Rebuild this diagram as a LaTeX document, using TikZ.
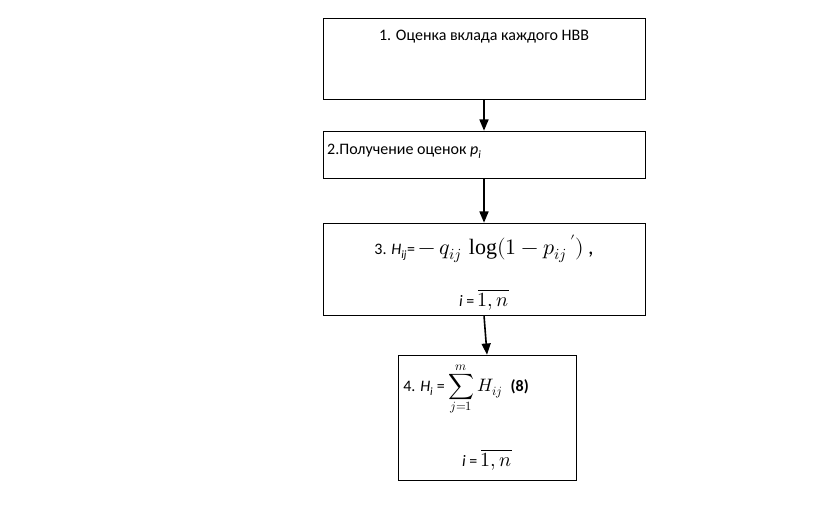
\documentclass[tikz,border=0pt]{standalone}
\usepackage{fontspec}
\usepackage{unicode-math}
\setmainfont{Carlito}
\setmathfont{Latin Modern Math}
\setmathrm{Liberation Serif}
\usetikzlibrary{positioning, arrows}
\tikzstyle{blk}=[draw, shape=rectangle, inner sep=0pt, line width=0.8pt]
\tikzstyle{txt}=[inner sep=0pt, font=\fontsize{16}{19}\selectfont]
\tikzset{>=triangle 45}

\begin{document}
\begin{tikzpicture}[x=1pt, y=-1pt]
\useasboundingbox (0,0) rectangle (834,507);
% the four blocks
\node[blk, minimum width=322pt, minimum height=81pt] (B1) at (484,58.5) {};
\node[blk, minimum width=322pt, minimum height=47pt] (B2) at (484,154.5) {};
\node[blk, minimum width=322pt, minimum height=92pt] (B3) at (484,269) {};
\node[blk, minimum width=178pt, minimum height=125pt] (B4) at (487,417.5) {};
% the texts
\node[txt] (T1) at (484,37) {1. Оценка вклада каждого НВВ};
\node[txt, anchor=west] (T2) at (327,151) {2.Получение оценок \textit{p\textsubscript{i}}};
\node[txt] (T3) at (484,249) {3. \textit{H\textsubscript{ij}}=
  {\fontsize{22}{24}\selectfont $-\,q_{ij}\,\log(1-p_{ij}\,')$\,,}};
\node[txt] (N3) at (484,300) {\textit{i} = {\fontsize{20}{22}\selectfont $\overline{1,n}$}};
\node[txt] (T4) at (466,389) {4. \textit{H\textsubscript{i}} = {\fontsize{18}{20}\selectfont$\displaystyle\sum_{j=1}^{m}H_{ij}$}\enspace\textbf{(8)}};
\node[txt] (N4) at (487,460) {\textit{i} = {\fontsize{20}{22}\selectfont $\overline{1,n}$}};
% the arrows
\draw[->, line width=1.6pt] (B1.south) -- (B2.north);
\draw[->, line width=1.6pt] (B2.south) -- (B3.north);
\draw[->, line width=1.6pt] (B3.south) -- (B4.north);
\end{tikzpicture}
\end{document}
